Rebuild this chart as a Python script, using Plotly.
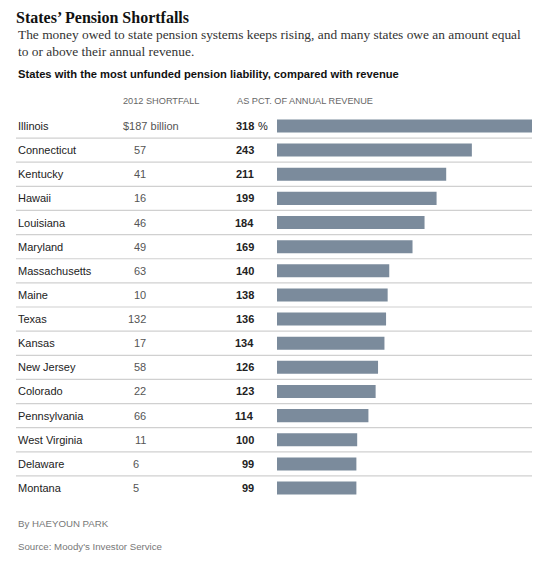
import plotly.graph_objects as go

states = ["Illinois", "Connecticut", "Kentucky", "Hawaii", "Louisiana", "Maryland",
          "Massachusetts", "Maine", "Texas", "Kansas", "New Jersey", "Colorado",
          "Pennsylvania", "West Virginia", "Delaware", "Montana"]
shortfall = [187, 57, 41, 16, 46, 49, 63, 10, 132, 17, 58, 22, 66, 11, 6, 5]
pct_revenue = [318, 243, 211, 199, 184, 169, 140, 138, 136, 134, 126, 123, 114, 100, 99, 99]

OFF = 8  # page body margin
W, H = 557 - 2 * OFF, 561 - 2 * OFF
SANS = "Liberation Sans, Arial, sans-serif"
SERIF = "Liberation Serif, Georgia, serif"
BAR = "#7b8b9c"

def px(x):
    return (x - OFF) / W

def py(y):
    return 1 - (y - OFF) / H

row_top, row_bot = 113.9, 500.1
n = len(states)

fig = go.Figure()
fig.add_trace(go.Bar(
    x=pct_revenue, y=list(range(n)), orientation="h",
    marker=dict(color=BAR, line=dict(width=0)),
    width=0.54, hoverinfo="skip",
))

ann = []
for i, (s, sf, p) in enumerate(zip(states, shortfall, pct_revenue)):
    ann.append(dict(x=px(16), y=i, xref="paper", yref="y", text=s, showarrow=False,
                    xanchor="left", yanchor="middle",
                    font=dict(family=SANS, size=11, color="#222")))
    if i == 0:
        ann.append(dict(x=px(121), y=i, xref="paper", yref="y", text=f"${sf} billion",
                        showarrow=False, xanchor="left", yanchor="middle",
                        font=dict(family=SANS, size=11, color="#555")))
        ann.append(dict(x=px(256), y=i, xref="paper", yref="y", text="%",
                        showarrow=False, xanchor="left", yanchor="middle",
                        font=dict(family=SANS, size=11, color="#222")))
    else:
        xr = 148 if sf >= 10 else 141
        ann.append(dict(x=px(xr), y=i, xref="paper", yref="y", text=str(sf),
                        showarrow=False, xanchor="right", yanchor="middle",
                        font=dict(family=SANS, size=11, color="#555")))
    ann.append(dict(x=px(256), y=i, xref="paper", yref="y", text=f"<b>{p}</b>",
                    showarrow=False, xanchor="right", yanchor="middle",
                    font=dict(family=SANS, size=11, color="#222")))

ann += [
    dict(x=px(15), y=py(8), xref="paper", yref="paper", text="<b>States’ Pension Shortfalls</b>",
         showarrow=False, xanchor="left", yanchor="top", borderpad=0,
         font=dict(family=SERIF, size=16, color="#111")),
    dict(x=px(16), y=py(43), xref="paper", yref="paper",
         text="The money owed to state pension systems keeps rising, and many states owe an amount equal<br>to or above their annual revenue.",
         showarrow=False, xanchor="left", yanchor="middle", align="left",
         font=dict(family=SERIF, size=13.4, color="#333")),
    dict(x=px(16), y=py(74), xref="paper", yref="paper",
         text="<b>States with the most unfunded pension liability, compared with revenue</b>",
         showarrow=False, xanchor="left", yanchor="middle",
         font=dict(family=SANS, size=11.2, color="#111")),
    dict(x=px(121), y=py(101), xref="paper", yref="paper", text="2012 SHORTFALL",
         showarrow=False, xanchor="left", yanchor="middle",
         font=dict(family=SANS, size=9.2, color="#666")),
    dict(x=px(235), y=py(101), xref="paper", yref="paper", text="AS PCT. OF ANNUAL REVENUE",
         showarrow=False, xanchor="left", yanchor="middle",
         font=dict(family=SANS, size=9.2, color="#666")),
    dict(x=px(16), y=py(523), xref="paper", yref="paper", text="By HAEYOUN PARK",
         showarrow=False, xanchor="left", yanchor="middle",
         font=dict(family=SANS, size=9.7, color="#777")),
    dict(x=px(16), y=py(546), xref="paper", yref="paper", text="Source: Moody's Investor Service",
         showarrow=False, xanchor="left", yanchor="middle",
         font=dict(family=SANS, size=9.7, color="#777")),
]

shapes = []
for i in range(n - 1):
    shapes.append(dict(type="line", xref="paper", yref="y", x0=px(16), x1=px(532),
                       y0=i + 0.5, y1=i + 0.5, line=dict(color="#d0d0d0", width=1.2)))

fig.update_layout(
    width=W, height=H, margin=dict(l=0, r=0, t=0, b=0),
    paper_bgcolor="white", plot_bgcolor="white", showlegend=False,
    xaxis=dict(domain=[px(277), px(532)], range=[0, max(pct_revenue)], visible=False, fixedrange=True),
    yaxis=dict(domain=[py(row_bot), py(row_top)], range=[n - 0.5, -0.5], visible=False, fixedrange=True),
    annotations=ann, shapes=shapes, bargap=0.46,
)

fig.write_html("out.html")
